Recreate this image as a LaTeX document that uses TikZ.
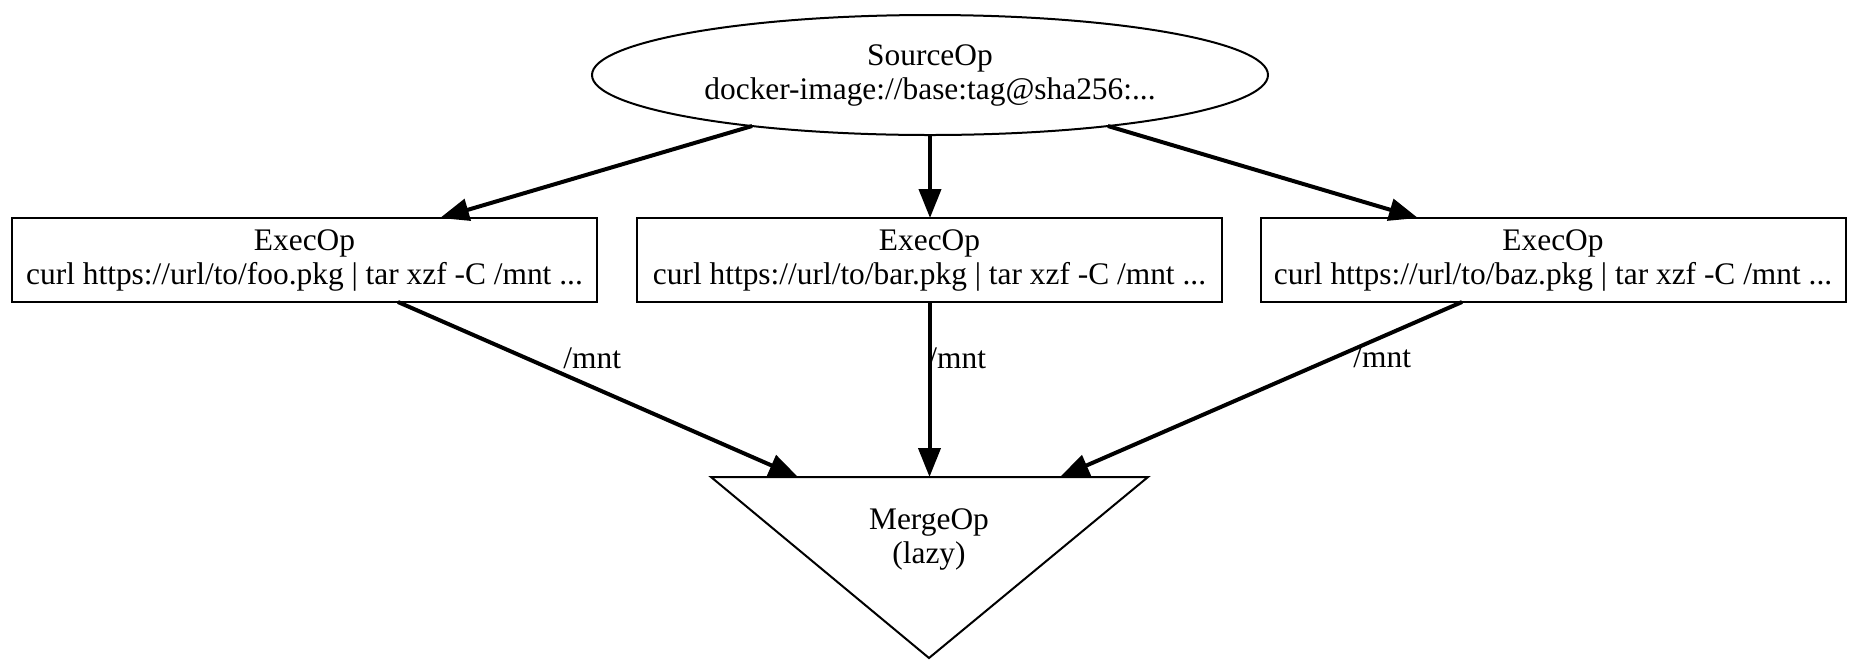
\documentclass[tikz,border=0pt]{standalone}
\usepackage{fontspec}
\setmainfont{Liberation Serif}
\usetikzlibrary{arrows.meta,calc,shapes.geometric}
\begin{document}
\begin{tikzpicture}[x=0.5pt,y=-0.5pt,
  txt/.style={font=\fontsize{15.7pt}{17pt}\selectfont},
  opbox/.style={txt,draw,line width=1pt,rectangle,minimum width=292.5pt,minimum height=42pt,inner sep=0pt,outer sep=0pt,align=center},
  srcnode/.style={txt,draw,line width=1pt,ellipse,minimum width=338pt,minimum height=60pt,inner sep=0pt,outer sep=0pt,align=center},
  edge/.style={line width=2pt,-{Triangle[length=14.5pt,width=11pt]}},
  lbl/.style={txt,anchor=base west,inner sep=0pt}]
\useasboundingbox (0,0) rectangle (1864,666);
% nodes
\node[srcnode] (src) at (930,75) {SourceOp\\docker-image://base:tag@sha256:...};
\node[opbox] (b1) at (304.5,260) {ExecOp\\curl https://url/to/foo.pkg | tar xzf -C /mnt ...};
\node[opbox] (b2) at (929.5,260) {ExecOp\\curl https://url/to/bar.pkg | tar xzf -C /mnt ...};
\node[opbox] (b3) at (1553,260) {ExecOp\\curl https://url/to/baz.pkg | tar xzf -C /mnt ...};
% merge triangle
\coordinate (mtl) at (711,477);
\coordinate (mtr) at (1148,477);
\coordinate (mbot) at (929,658);
\draw[line width=1pt] (mtl) -- (mtr) -- (mbot) -- cycle;
\node[txt,align=center,inner sep=0pt] (merge) at (929,539.5) {MergeOp\\(lazy)};
\coordinate (m1) at (798,477);
\coordinate (m2) at (929.5,477);
\coordinate (m3) at (1060,477);
% edges
\draw[edge] (src.196.6) -- ($(b1.north)+(135.5,0)$);
\draw[edge] (src.south) -- (src.south |- b2.north);
\draw[edge] (src.-16.8) -- ($(b3.north)+(-135,0)$);
\draw[edge] ($(b1.south)+(93.5,0)$) -- (m1);
\draw[edge] (b2.south) -- (m2);
\draw[edge] ($(b3.south)+(-91,0)$) -- (m3);
% labels
\node[lbl] (l1) at (563,368) {/mnt};
\node[lbl] (l2) at (928,368) {/mnt};
\node[lbl] (l3) at (1353,367) {/mnt};
\end{tikzpicture}
\end{document}
